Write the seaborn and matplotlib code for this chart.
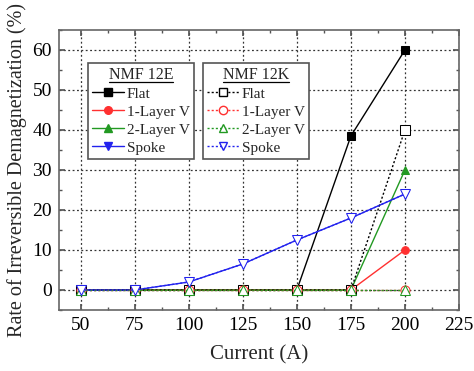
import matplotlib
matplotlib.use("Agg")
import matplotlib.pyplot as plt
import seaborn as sns
import pandas as pd
from matplotlib.ticker import MultipleLocator
from matplotlib.lines import Line2D

current = [50, 75, 100, 125, 150, 175, 200]
e_flat = [0, 0, 0, 0, 0, 38.5, 60]
e_1v = [0, 0, 0, 0, 0, 0, 10]
e_2v = [0, 0, 0, 0, 0, 0, 30]
e_spoke = [0, 0, 2, 6.5, 12.5, 18, 24]
k_flat = [0, 0, 0, 0, 0, 0, 40]
k_1v = [0, 0, 0, 0, 0, 0, 0]
k_2v = [0, 0, 0, 0, 0, 0, 0]
k_spoke = [0, 0, 2, 6.5, 12.5, 18, 24]
labels = ["Flat", "1-Layer V", "2-Layer V", "Spoke"]

sns.set_theme(style="ticks")
plt.rcParams['font.family'] = ['Liberation Serif', 'DejaVu Serif']

fig, ax = plt.subplots(figsize=(4.74, 3.71), dpi=100)
fig.subplots_adjust(left=59/474, right=459/474, top=1-30/371, bottom=1-310/371)

colors = ["black", "#ff3030", "#229922", "#2222ee"]
markers = ["s", "o", "^", "v"]
e_series = [e_flat, e_1v, e_2v, e_spoke]
k_series = [k_flat, k_1v, k_2v, k_spoke]

e_handles = []
k_handles = []
for vals, c, m, lab in zip(e_series, colors, markers, labels):
    df = pd.DataFrame({"x": current, "y": vals})
    sns.lineplot(data=df, x="x", y="y", ax=ax, color=c, marker=m, markersize=5.5,
                 markeredgecolor=c, markerfacecolor=c, linewidth=1.0, zorder=3)
    e_handles.append(Line2D([], [], color=c, marker=m, markersize=5.5, markerfacecolor=c,
                            markeredgecolor=c, linewidth=1.0, label=lab))
for vals, c, m, lab in zip(k_series, colors, markers, labels):
    df = pd.DataFrame({"x": current, "y": vals})
    sns.lineplot(data=df, x="x", y="y", ax=ax, color=c, marker=m, markersize=6.5,
                 markeredgecolor=c, markerfacecolor="white", linewidth=1.0,
                 linestyle=(0, (1.5, 1.5)), zorder=4)
    k_handles.append(Line2D([], [], color=c, marker=m, markersize=6, markerfacecolor="white",
                            markeredgecolor=c, linewidth=1.0, linestyle=(0, (1.5, 1.5)), label=lab))

ax.set_xlim(40, 225)
ax.set_ylim(-5, 65)
ax.xaxis.set_major_locator(MultipleLocator(25))
ax.xaxis.set_minor_locator(MultipleLocator(12.5))
ax.yaxis.set_major_locator(MultipleLocator(10))
ax.yaxis.set_minor_locator(MultipleLocator(5))
ax.tick_params(which="both", direction="in", top=True, right=True, labelsize=14, colors="#555555", labelcolor="black")
ax.tick_params(which="major", length=4, pad=5)
ax.tick_params(which="minor", length=2.5)
ax.grid(True, which="major", linestyle=(0, (1.5, 2)), color="#333333", linewidth=0.9)
for s in ax.spines.values():
    s.set_color("#666666")
    s.set_linewidth(1.2)
ax.set_xlabel("Current (A)", fontsize=15, labelpad=8)
ax.set_ylabel("Rate of Irreversible Demagnetization (%)", fontsize=14.5, labelpad=4)

common = dict(fontsize=11, title_fontsize=11.5, frameon=True, fancybox=False, edgecolor="#555555",
              framealpha=1, handlelength=2.1, handletextpad=0.2, labelspacing=0.28,
              borderpad=0.25, borderaxespad=0, loc="upper left")
leg1 = ax.legend(handles=e_handles, title="NMF 12E",
                 bbox_to_anchor=(0.0725, 0.882), **common)
leg1.get_frame().set_linewidth(1.2)
ax.add_artist(leg1)
leg2 = ax.legend(handles=k_handles, title="NMF 12K",
                 bbox_to_anchor=(0.36, 0.882), **common)
leg2.get_frame().set_linewidth(1.2)

# underline legend titles
fig.canvas.draw()
r = fig.canvas.get_renderer()
for leg in (leg1, leg2):
    bb = leg.get_title().get_window_extent(r)
    y = bb.y0 + 1
    fig.add_artist(Line2D([bb.x0 / fig.bbox.width, bb.x1 / fig.bbox.width],
                          [y / fig.bbox.height, y / fig.bbox.height],
                          color="black", linewidth=0.9, zorder=10))

fig.savefig("out.png", dpi=100)
